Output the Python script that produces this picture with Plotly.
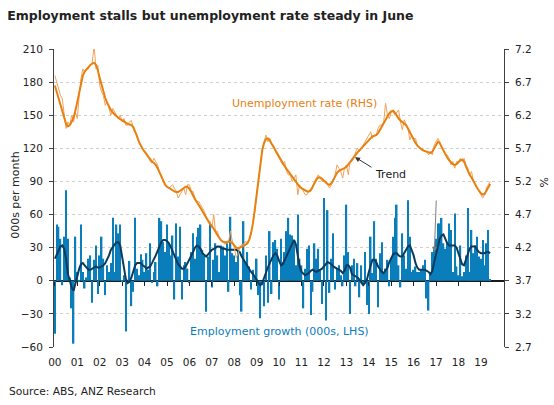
# -----------------------------------------------------------------------------------------#
# Employment growth (bars + trend, LHS) and the unemployment rate (RHS), Jan 2000 - Jun 2019
# -----------------------------------------------------------------------------------------#

import pandas as pd
import plotly.graph_objects as go

# monthly dates, Jan 2000 to Jun 2019
months = pd.date_range("2000-01-01", periods=234, freq="MS")

# Employment growth, 000s per month (one row per year)
emp_growth = [
    -48, 51, 49, 38, -4, 40, 82, 38, 3, -25, -57, 40,
    8, -1, 51, 8, -7, 3, 20, 23, -20, 19, 32, -12,
    23, 40, 20, -13, 14, 8, 16, 57, 8, 51, 43, 51,
    -1, 5, -46, -2, 18, -23, -10, 57, 11, 5, 24, 19,
    8, 25, 10, 34, -2, 8, 17, -5, 57, 54, 35, 26,
    51, 34, 23, 41, -17, 52, 22, 49, -17, 14, 17, 11,
    -2, 26, 43, 20, 40, 48, 51, 28, 23, -28, 22, 52,
    -6, 19, 34, 23, 8, 32, 31, 23, 34, -10, 58, 25,
    23, 17, 28, -13, -28, 54, 17, 26, 13, -8, 10, 5,
    20, -13, -34, -4, -23, 23, -20, 45, -12, 35, 37, 29,
    -17, 38, 17, 26, 45, 57, 42, 41, 35, 14, 60, 20,
    14, -25, 11, 29, 32, -31, -10, 34, 20, 29, 10, -21,
    75, -36, 64, -11, 20, 43, -8, 11, 14, 5, -5, 23,
    69, 26, -30, 14, 20, -5, 16, -15, 14, -4, 26, -22,
    -30, 40, 7, 54, 20, -24, 25, 35, 8, 11, 19, -5,
    20, 40, 57, 69, 14, -6, 43, 23, 11, 73, 40, 8,
    10, 13, 8, 8, 10, 14, 19, -16, -27, 8, 26, 31,
    38, 52, 52, 57, 34, 29, 35, 52, 46, 8, 61, 13,
    5, 32, 4, 8, 23, 66, 8, 46, 25, 32, 40, 22,
    20, 37, 14, 34, 46, 1,
]

# Employment growth trend, 000s
emp_trend = [
    20, 24, 28, 31, 32, 29, 20, 6, 0, -6, -9, -2,
    5, 11, 15, 16, 14, 12, 10, 10, 11, 12, 13, 12,
    12, 13, 14, 16, 19, 23, 28, 31, 33, 35, 35, 32,
    22, 12, 2, -2, -1, 3, 8, 14, 16, 16, 16, 14,
    13, 11, 12, 13, 16, 19, 23, 27, 31, 35, 37, 37,
    36, 34, 31, 27, 23, 19, 15, 13, 11, 11, 13, 16,
    19, 22, 26, 30, 32, 31, 29, 25, 23, 22, 24, 26,
    28, 29, 30, 31, 31, 30, 29, 29, 28, 28, 28, 28,
    28, 28, 27, 26, 22, 19, 16, 13, 11, 8, 6, 4,
    1, -2, -4, -2, 3, 7, 12, 16, 20, 23, 25, 23,
    18, 14, 15, 19, 22, 26, 29, 34, 37, 33, 22, 13,
    8, 6, 5, 6, 7, 9, 10, 9, 8, 9, 10, 11,
    13, 15, 17, 16, 15, 13, 12, 11, 10, 9, 7, 9,
    14, 14, 12, 6, 5, 4, 3, 1, -2, -4, -2, 1,
    8, 14, 19, 19, 17, 13, 10, 8, 7, 9, 12, 17,
    21, 24, 25, 25, 23, 22, 22, 25, 29, 31, 32, 28,
    23, 16, 12, 10, 10, 10, 10, 9, 8, 6, 9, 17,
    24, 31, 38, 41, 42, 38, 34, 32, 32, 32, 32, 30,
    25, 20, 15, 14, 19, 25, 29, 31, 31, 31, 28, 26,
    25, 25, 25, 26, 26, 25,
]

# Unemployment rate, % (RHS)
unemp_rate = [
    6.8, 6.7, 6.6, 6.5, 6.45, 6.2, 6.0, 6.1, 6.05, 6.2, 6.1, 6.25,
    6.15, 6.5, 6.75, 6.9, 6.85, 6.9, 6.9, 6.95, 7.0, 7.25, 6.9, 6.95,
    6.65, 6.55, 6.5, 6.35, 6.4, 6.3, 6.2, 6.3, 6.25, 6.2, 6.15, 6.2,
    6.1, 6.15, 6.05, 6.05, 6.1, 6.12, 6.0, 5.95, 5.88, 5.8, 5.73, 5.7,
    5.65, 5.63, 5.55, 5.5, 5.48, 5.55, 5.5, 5.45, 5.32, 5.3, 5.2, 5.15,
    5.12, 5.1, 5.12, 5.15, 5.1, 5.05, 4.95, 5.0, 5.05, 5.1, 5.0, 5.15,
    5.15, 5.05, 5.05, 4.95, 4.9, 4.9, 4.85, 4.8, 4.75, 4.65, 4.6, 4.6,
    4.5, 4.7, 4.45, 4.45, 4.35, 4.3, 4.3, 4.25, 4.3, 4.3, 4.45, 4.3,
    4.2, 4.05, 4.1, 4.2, 4.25, 4.25, 4.3, 4.25, 4.3, 4.4, 4.55, 4.75,
    5.0, 5.25, 5.5, 5.7, 5.8, 5.9, 5.8, 5.85, 5.75, 5.75, 5.65, 5.6,
    5.55, 5.5, 5.45, 5.5, 5.35, 5.3, 5.3, 5.2, 5.25, 5.3, 5.0, 5.15,
    5.1, 5.05, 5.0, 5.0, 5.05, 5.05, 5.1, 5.2, 5.25, 5.3, 5.25, 5.2,
    5.2, 5.2, 5.15, 5.1, 5.15, 5.2, 5.3, 5.45, 5.4, 5.35, 5.25, 5.4,
    5.45, 5.3, 5.5, 5.5, 5.55, 5.65, 5.7, 5.65, 5.7, 5.75, 5.8, 5.85,
    5.9, 5.95, 5.85, 5.9, 5.9, 6.0, 6.05, 6.05, 6.1, 6.38, 6.2, 6.15,
    6.25, 6.25, 6.2, 6.25, 6.28, 6.1, 5.98, 6.13, 6.05, 6.0, 5.83, 5.9,
    5.85, 5.85, 5.75, 5.7, 5.7, 5.7, 5.65, 5.65, 5.6, 5.65, 5.6, 5.75,
    5.8, 5.85, 5.8, 5.7, 5.65, 5.6, 5.6, 5.55, 5.45, 5.5, 5.4, 5.5,
    5.5, 5.55, 5.5, 5.55, 5.45, 5.4, 5.3, 5.35, 5.2, 5.15, 5.1, 5.05,
    5.0, 4.95, 5.0, 5.1, 5.15, 5.2,
]

# Unemployment rate trend, %
unemp_trend = [
    6.65, 6.55, 6.45, 6.35, 6.25, 6.15, 6.07, 6.03, 6.05, 6.1, 6.17, 6.27,
    6.4, 6.55, 6.7, 6.8, 6.86, 6.9, 6.93, 6.96, 6.98, 6.99, 6.96, 6.88,
    6.76, 6.64, 6.54, 6.46, 6.39, 6.33, 6.28, 6.24, 6.21, 6.18, 6.16, 6.14,
    6.12, 6.1, 6.08, 6.07, 6.06, 6.05, 6.02, 5.96, 5.88, 5.8, 5.74, 5.69,
    5.65, 5.61, 5.57, 5.53, 5.5, 5.48, 5.45, 5.4, 5.33, 5.26, 5.2, 5.15,
    5.12, 5.1, 5.09, 5.07, 5.05, 5.04, 5.04, 5.06, 5.08, 5.1, 5.12, 5.12,
    5.09, 5.04, 4.98, 4.93, 4.89, 4.85, 4.8, 4.75, 4.7, 4.65, 4.6, 4.56,
    4.53, 4.49, 4.44, 4.39, 4.34, 4.31, 4.29, 4.28, 4.28, 4.29, 4.29, 4.27,
    4.23, 4.2, 4.19, 4.2, 4.22, 4.23, 4.24, 4.27, 4.32, 4.42, 4.57, 4.78,
    5.02, 5.27, 5.5, 5.67, 5.78, 5.84, 5.85, 5.82, 5.77, 5.72, 5.67, 5.62,
    5.57, 5.52, 5.47, 5.43, 5.39, 5.35, 5.31, 5.27, 5.23, 5.19, 5.15, 5.12,
    5.1, 5.08, 5.06, 5.05, 5.05, 5.07, 5.12, 5.18, 5.23, 5.26, 5.26, 5.24,
    5.21, 5.18, 5.16, 5.15, 5.17, 5.22, 5.28, 5.33, 5.36, 5.37, 5.38, 5.4,
    5.42, 5.45, 5.49, 5.53, 5.57, 5.61, 5.64, 5.67, 5.7, 5.74, 5.77, 5.8,
    5.83, 5.86, 5.88, 5.89, 5.9, 5.93, 5.98, 6.03, 6.08, 6.13, 6.18, 6.23,
    6.26, 6.27, 6.24, 6.19, 6.15, 6.12, 6.1, 6.08, 6.05, 6.0, 5.94, 5.88,
    5.83, 5.78, 5.74, 5.71, 5.69, 5.67, 5.66, 5.65, 5.65, 5.63, 5.65, 5.7,
    5.76, 5.8, 5.78, 5.72, 5.66, 5.6, 5.56, 5.52, 5.48, 5.46, 5.45, 5.46,
    5.49, 5.52, 5.53, 5.5, 5.43, 5.36, 5.3, 5.26, 5.2, 5.14, 5.1, 5.06,
    5.02, 5.0, 5.01, 5.06, 5.12, 5.16,
]

# axis ticks
year_ticks = pd.date_range("2000-01-01", "2019-01-01", freq="YS")
year_labels = ["%02d" % (d.year % 100) for d in year_ticks]
lhs_ticks = [-60, -30, 0, 30, 60, 90, 120, 150, 180, 210]
rhs_ticks = [2.7, 3.2, 3.7, 4.2, 4.7, 5.2, 5.7, 6.2, 6.7, 7.2]
x_range = ["1999-12-18", "2020-01-12"]

ORANGE = "#E8800F"
BLUE = "#0A7DBB"
NAVY = "#0B3A5C"
FONT = "DejaVu Sans"

# -----------------------------------------------------------------------------------------#
# Traces
# -----------------------------------------------------------------------------------------#

fig = go.Figure()

fig.add_trace(go.Bar(x=months, y=emp_growth, marker_color=BLUE, marker_line_width=0, yaxis="y"))
fig.add_trace(go.Scatter(x=months, y=emp_trend, mode="lines", line=dict(color=NAVY, width=2), yaxis="y"))
fig.add_trace(go.Scatter(x=months, y=unemp_rate, mode="lines", line=dict(color="#F2A25A", width=1), yaxis="y2"))
fig.add_trace(go.Scatter(x=months, y=unemp_trend, mode="lines", line=dict(color=ORANGE, width=2), yaxis="y2"))

# year ticks on the zero line need something on xaxis2
fig.add_trace(go.Scatter(x=months[:1], y=[None], xaxis="x2", yaxis="y", hoverinfo="skip"))

# -----------------------------------------------------------------------------------------#
# Layout
# -----------------------------------------------------------------------------------------#

fig.update_layout(
    width=554,
    height=405,
    margin=dict(l=54, r=50, t=49, b=58),
    paper_bgcolor="white",
    plot_bgcolor="white",
    showlegend=False,
    bargap=0.12,
    font=dict(family=FONT, size=10, color="#222222"),
    title=dict(
        text="<b>Employment stalls but unemployment rate steady in June</b>",
        x=0.013, xanchor="left", xref="container",
        y=0.962, yanchor="middle", yref="container",
        font=dict(family=FONT, size=12.5, color="#222222"),
    ),
    xaxis=dict(
        type="date", range=x_range, tickvals=year_ticks, ticktext=year_labels,
        showgrid=False, showline=False, zeroline=False,
        ticks="outside", ticklen=5, tickcolor="rgba(0,0,0,0)",
        tickfont=dict(size=10.5, color="#222222"),
    ),
    # second x axis only to draw the year ticks on the zero line
    xaxis2=dict(
        type="date", range=x_range, tickvals=year_ticks,
        overlaying="x", anchor="free", position=60 / 270, side="bottom",
        showgrid=False, showline=False, zeroline=False, showticklabels=False,
        ticks="outside", ticklen=4, tickcolor="#222222",
    ),
    yaxis=dict(
        range=[-60, 210], tickvals=lhs_ticks,
        showgrid=True, gridcolor="#CFCFCF", griddash="dot", gridwidth=1,
        zeroline=True, zerolinecolor="#1A1A1A", zerolinewidth=1.5,
        showline=True, linecolor="#404040", linewidth=1,
        ticks="outside", ticklen=4, tickcolor="#404040", ticklabelstandoff=4,
        tickfont=dict(size=10.5, color="#222222"),
    ),
    yaxis2=dict(
        range=[2.7, 7.2], tickvals=rhs_ticks, tickformat=".1f",
        overlaying="y", side="right", anchor="x",
        showgrid=False, zeroline=False,
        showline=True, linecolor="#404040", linewidth=1,
        ticks="outside", ticklen=4, tickcolor="#404040", ticklabelstandoff=4,
        tickfont=dict(size=10.5, color="#222222"),
    ),
)

# -----------------------------------------------------------------------------------------#
# Labels and arrows
# -----------------------------------------------------------------------------------------#

fig.add_annotation(x="2011-02-26", y=161, text="Unemployment rate (RHS)", showarrow=False,
                   font=dict(size=11, color=ORANGE))
fig.add_annotation(x="2014-12-28", y=96, text="Trend", showarrow=False,
                   font=dict(size=11, color="#1A1A1A"))
fig.add_annotation(x="2013-05-21", y=112, text="", showarrow=True, ax=18, ay=11,
                   arrowhead=2, arrowsize=1, arrowwidth=1, arrowcolor="#333333")
fig.add_annotation(x="2016-12-03", y=26, text="", showarrow=True, ax=2, ay=-53,
                   arrowhead=2, arrowsize=1, arrowwidth=1, arrowcolor="#7F7F7F")
fig.add_annotation(x="2010-01-15", y=-45.5, text="Employment growth (000s, LHS)", showarrow=False,
                   font=dict(size=11, color=BLUE))

fig.add_annotation(xref="paper", yref="paper", x=-0.087, y=0.51, xanchor="center", yanchor="middle",
                   text="000s per month", textangle=-90, showarrow=False,
                   font=dict(size=11, color="#222222"))
fig.add_annotation(xref="paper", yref="paper", x=1.09, y=0.55, xanchor="center", yanchor="middle",
                   text="%", textangle=-90, showarrow=False,
                   font=dict(size=11, color="#222222"))
fig.add_annotation(xref="paper", yref="paper", x=-0.105, y=-0.148, xanchor="left", yanchor="middle",
                   text="Source: ABS, ANZ Research", showarrow=False,
                   font=dict(size=10.7, color="#222222"))

fig.write_html("out.html", config={"displayModeBar": False})

# drop the browser's default page margin so the chart sits at the window origin
with open("out.html", "r", encoding="utf-8") as file:
    content = file.read()

content = content.replace("</head>", "<style>body { margin: 0; }</style></head>", 1)

with open("out.html", "w", encoding="utf-8") as file:
    file.write(content)
